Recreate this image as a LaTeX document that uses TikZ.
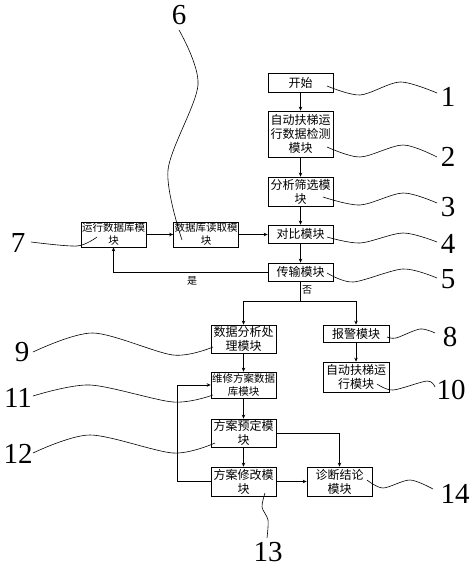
\documentclass[tikz,border=0pt]{standalone}
\usepackage{fontspec}
\setmainfont{Liberation Serif}
\newfontfamily\cjk{Noto Sans CJK SC}
\usetikzlibrary{arrows.meta,positioning}

\tikzset{
  box/.style={draw, line width=0.7pt, inner sep=0pt, minimum width=65pt, align=center,
    font=\cjk\fontsize{12}{14}\selectfont},
  smallbox/.style={box, font=\cjk\fontsize{10.5}{13}\selectfont},
  flow/.style={line width=0.7pt, -{Stealth[length=4pt,width=3.5pt]}},
  leader/.style={line width=0.6pt},
  numlabel/.style={font=\fontsize{29}{29}\selectfont, inner sep=0pt},
  yesno/.style={font=\cjk\fontsize{10}{10}\selectfont, inner sep=0pt}
}

\begin{document}
\begin{tikzpicture}[x=1pt, y=-1pt]
  \useasboundingbox (0,0) rectangle (474,569);
  % main column
  \node[box, minimum height=19pt] (start) at (300.5,82.5) {开始};
  \node[box, minimum height=46pt] (detect) at (300.5,134) {自动扶梯运\\行数据检测\\模块};
  \node[box, minimum height=29pt] (filter) at (300.5,191.5) {分析筛选模\\块};
  \node[box, minimum height=18pt] (compare) at (300.5,234) {对比模块};
  \node[box, minimum height=18pt] (trans) at (300.5,272) {传输模块};
  % database branch
  \node[smallbox, minimum height=25pt] (rundb) at (113.5,234.5) {运行数据库模\\块};
  \node[smallbox, minimum height=25pt] (dbread) at (206,234.5) {数据库读取模\\块};
  % lower part
  \node[box, minimum height=28pt] (analysis) at (243.5,339) {数据分析处\\理模块};
  \node[box, minimum width=66pt, minimum height=17pt] (alarm) at (356,333.5) {报警模块};
  \node[box, minimum width=66pt, minimum height=30pt] (escrun) at (356,377) {自动扶梯运\\行模块};
  \node[smallbox, minimum height=26pt] (repairdb) at (243.5,385) {维修方案数据\\库模块};
  \node[box, minimum height=28pt] (preset) at (243.5,433) {方案预定模\\块};
  \node[box, minimum height=29pt] (modify) at (243.5,481.5) {方案修改模\\块};
  \node[box, minimum height=29pt] (diagnose) at (339.5,481.5) {诊断结论\\模块};
  \coordinate (split) at (300.5,301);

  \draw[flow] (start) -- (detect);
  \draw[flow] (detect) -- (filter);
  \draw[flow] (filter) -- (compare);
  \draw[flow] (compare) -- (trans);
  \draw[flow] (rundb) -- (dbread);
  \draw[flow] (dbread.east) -- (dbread.east -| compare.west);
  \draw[flow] (trans.west) -| (rundb.south);
  \node[yesno] (yes) at (192,281) {是};
  \node[yesno] (no) at (307,290) {否};
  \draw[line width=0.7pt] (trans.south) -- (split);
  \draw[flow] (split) -| (analysis.north);
  \draw[flow] (split) -| (alarm.north);
  \draw[flow] (alarm) -- (escrun);
  \draw[flow] (analysis) -- (repairdb);
  \draw[flow] (repairdb) -- (preset);
  \draw[flow] (preset) -- (modify);
  \draw[flow] (modify.west) -- ++(-33,0) |- (repairdb.west);
  \draw[flow] (preset.east) -| (diagnose.north);
  \draw[flow] (modify) -- (diagnose);

  % numbers
  \foreach \n/\x/\y in {1/448/97, 2/448/157, 3/448/207, 4/448/244, 5/448/279,
    6/179/15, 7/18/243, 8/450/337, 9/22/352, 10/451/390, 11/18/398,
    12/18/454, 13/268/552, 14/455/494}
    \node[numlabel] (n\n) at (\x,\y) {\n};

  % leaders
  \draw[leader] plot[smooth] coordinates {(327,86) (360,95) (400,82) (437,93)};
  \draw[leader] plot[smooth] coordinates {(327,147) (360,157) (403,145) (437,157)};
  \draw[leader] plot[smooth] coordinates {(323,197) (360,205) (403,193) (437,203)};
  \draw[leader] plot[smooth] coordinates {(327,237) (360,243) (403,233) (437,242)};
  \draw[leader] plot[smooth] coordinates {(327,273) (353,282) (403,269) (437,278)};
  \draw[leader] plot[smooth] coordinates {(179,30) (198,85) (168,170) (182,240)};
  \draw[leader] plot[smooth] coordinates {(31,242) (77,246) (97,237)};
  \draw[leader] plot[smooth] coordinates {(387,337) (396,338) (420,329) (435,333)};
  \draw[leader] plot[smooth] coordinates {(33,352) (93,333) (173,355) (213,347)};
  \draw[leader] plot[smooth] coordinates {(377,384) (393,390) (427,381) (435,387)};
  \draw[leader] plot[smooth] coordinates {(33,396) (90,385) (173,402) (213,395)};
  \draw[leader] plot[smooth] coordinates {(33,453) (90,435) (173,453) (215,443)};
  \draw[leader] plot[smooth] coordinates {(265,493) (262,507) (268,520) (267,538)};
  \draw[leader] plot[smooth] coordinates {(367,480) (383,488) (410,480) (433,489)};
\end{tikzpicture}
\end{document}
